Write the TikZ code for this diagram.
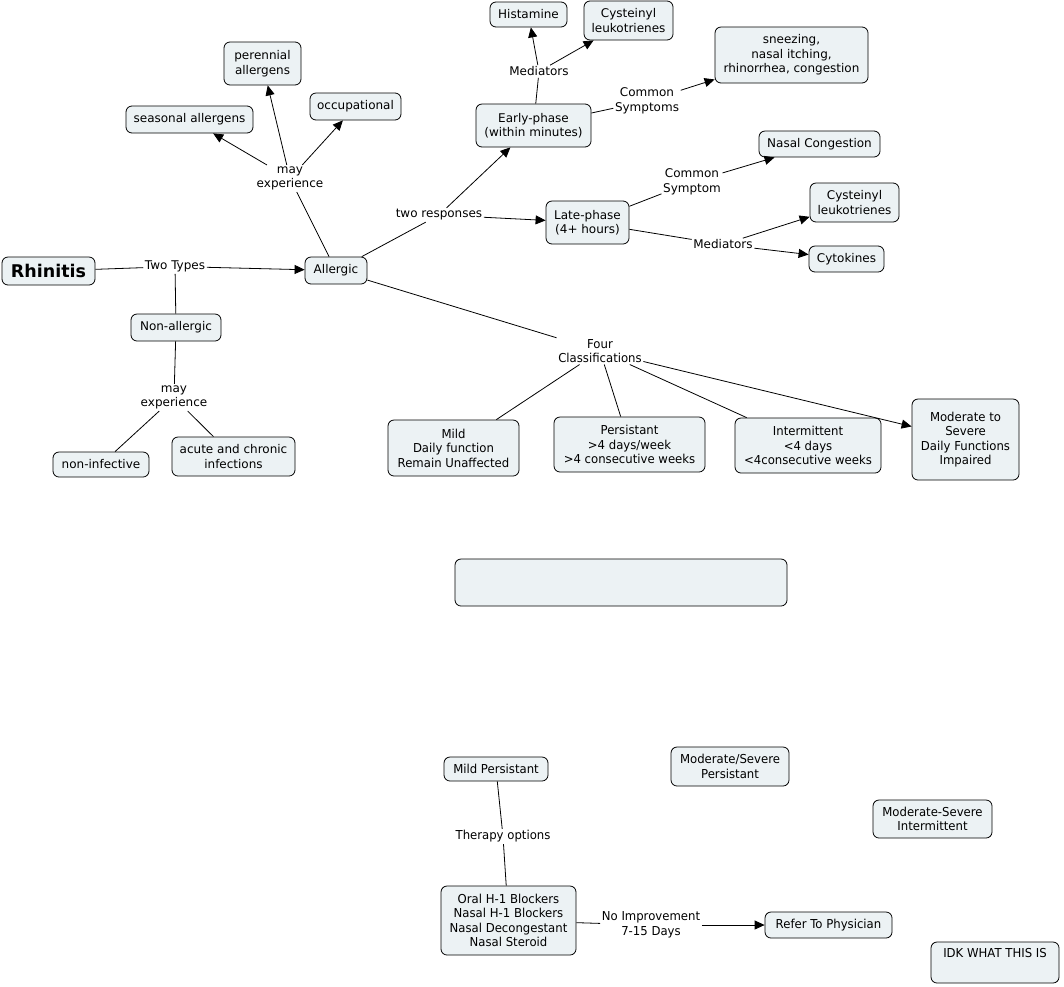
\documentclass[tikz,border=0pt]{standalone}
\usepackage{fontspec}
\setmainfont{DejaVu Sans}
\newfontfamily\tahomafont[FakeStretch=0.95]{DejaVu Sans}
\usetikzlibrary{arrows.meta}
\definecolor{boxfill}{RGB}{236,242,244}
\tikzset{
  vbox/.style={draw=black, line width=0.8pt, rounded corners=6pt, fill=boxfill,
    align=center, inner sep=0pt, font=\fontsize{12}{14.5}\selectfont},
  tbox/.style={vbox, font=\tahomafont\fontsize{12.3}{14.5}\selectfont},
  vlab/.style={inner sep=1.5pt, align=center, font=\fontsize{12}{14.5}\selectfont},
  tlab/.style={vlab, font=\tahomafont\fontsize{12.3}{14.5}\selectfont},
  conn/.style={line width=0.8pt},
  arr/.style={conn, -{Triangle[length=10pt,width=9pt]}},
}
\begin{document}
\begin{tikzpicture}[x=1pt,y=-1pt]
\useasboundingbox (0,0) rectangle (1064,986);
% concept boxes
\node[vbox, minimum width=93, minimum height=28, font=\fontsize{17.5}{20}\selectfont\bfseries] (rhin) at (48.5,271) {Rhinitis};
\node[vbox, minimum width=62, minimum height=27] (allerg) at (336,270.5) {Allergic};
\node[vbox, minimum width=90, minimum height=27] (nonall) at (176,327.5) {Non-allergic};
\node[vbox, minimum width=96, minimum height=25] (noninf) at (101,464.5) {non-infective};
\node[vbox, minimum width=123, minimum height=39] (acute) at (233.5,456.5) {acute and chronic\\infections};
\node[vbox, minimum width=127, minimum height=27] (season) at (189.5,119.5) {seasonal allergens};
\node[vbox, minimum width=77, minimum height=43] (perenn) at (262.5,63.5) {perennial\\allergens};
\node[vbox, minimum width=91, minimum height=27] (occup) at (355.5,106.5) {occupational};
\node[vbox, minimum width=77, minimum height=25] (hist) at (528.5,14.5) {Histamine};
\node[vbox, minimum width=89, minimum height=39] (cyst1) at (628.5,20.5) {Cysteinyl\\leukotrienes};
\node[vbox, minimum width=153, minimum height=56] (sneez) at (791.5,55) {sneezing,\\nasal itching,\\rhinorrhea, congestion};
\node[vbox, minimum width=115, minimum height=43] (early) at (533.5,125.5) {Early-phase\\(within minutes)};
\node[vbox, minimum width=121, minimum height=26] (nasal) at (819.5,144) {Nasal Congestion};
\node[vbox, minimum width=83, minimum height=43] (late) at (587.5,222.5) {Late-phase\\(4+ hours)};
\node[vbox, minimum width=89, minimum height=39] (cyst2) at (854.5,202.5) {Cysteinyl\\leukotrienes};
\node[vbox, minimum width=75, minimum height=26] (cyto) at (846.5,259) {Cytokines};
\node[tbox, minimum width=131, minimum height=56] (mild) at (453.5,448) {Mild\\Daily function\\Remain Unaffected};
\node[tbox, minimum width=151, minimum height=55] (pers) at (629.5,444.5) {Persistant\\>4 days/week\\>4 consecutive weeks};
\node[tbox, minimum width=146, minimum height=55] (inter) at (808,445.5) {Intermittent\\<4 days\\<4consecutive weeks};
\node[tbox, minimum width=107, minimum height=81] (modsev) at (965.5,439.5) {Moderate to\\Severe\\Daily Functions\\Impaired};
\node[tbox, minimum width=332, minimum height=47] (empty) at (621,582.5) {};
\node[tbox, minimum width=104, minimum height=24] (mildp) at (496,769) {Mild Persistant};
\node[tbox, minimum width=118, minimum height=39] (msp) at (730,766.5) {Moderate/Severe\\Persistant};
\node[tbox, minimum width=119, minimum height=38] (msi) at (932.5,819) {Moderate-Severe\\Intermittent};
\node[tbox, minimum width=135, minimum height=69] (oral) at (508.5,920.5) {Oral H-1 Blockers\\Nasal H-1 Blockers\\Nasal Decongestant\\Nasal Steroid};
\node[tbox, minimum width=127, minimum height=26] (refer) at (828.5,925) {Refer To Physician};
\node[tbox, minimum width=128, minimum height=41] (idk) at (995,962.5) {IDK WHAT THIS IS\\\strut};
% linking phrases
\node[vlab] (twotypes) at (175,266.5) {Two Types};
\node[vlab] (mayN) at (174,397.5) {may\\experience};
\node[vlab] (mayA) at (290,178.5) {may\\experience};
\node[vlab] (tworesp) at (439,215) {two responses};
\node[vlab] (medE) at (539,71.5) {Mediators};
\node[vlab] (comS) at (647,101) {Common\\Symptoms};
\node[vlab] (comL) at (692,182) {Common\\Symptom};
\node[vlab] (medL) at (723,244.5) {Mediators};
\node[tlab] (four) at (600,351) {Four\\Classifications};
\node[tlab] (ther) at (503,836.5) {Therapy options};
\node[tlab] (noimp) at (651,925) {No Improvement\\7-15 Days};
% connectors
\draw[conn] (rhin) -- (twotypes);
\draw[arr] (twotypes) -- (allerg);
\draw[conn] (twotypes) -- (nonall);
\draw[conn] (nonall) -- (mayN);
\draw[conn] (mayN) -- (noninf);
\draw[conn] (mayN) -- (acute);
\draw[conn] (allerg) -- (mayA);
\draw[arr] (mayA) -- (season);
\draw[arr] (mayA) -- (perenn);
\draw[arr] (mayA) -- (occup);
\draw[conn] (allerg) -- (tworesp);
\draw[arr] (tworesp) -- (early);
\draw[arr] (tworesp) -- (late);
\draw[conn] (early) -- (medE);
\draw[arr] (medE) -- (hist);
\draw[arr] (medE) -- (cyst1);
\draw[conn] (early) -- (comS);
\draw[arr] (comS) -- (sneez);
\draw[conn] (late) -- (comL);
\draw[arr] (comL) -- (nasal);
\draw[conn] (late) -- (medL);
\draw[arr] (medL) -- (cyst2);
\draw[arr] (medL) -- (cyto);
\draw[conn] (allerg) -- (four);
\draw[conn] (four) -- (mild);
\draw[conn] (four) -- (pers);
\draw[conn] (four) -- (inter);
\draw[arr] (four) -- (modsev);
\draw[conn] (mildp) -- (ther);
\draw[conn] (ther) -- (oral);
\draw[conn] (oral) -- (noimp);
\draw[arr] (noimp) -- (refer);
\end{tikzpicture}
\end{document}
